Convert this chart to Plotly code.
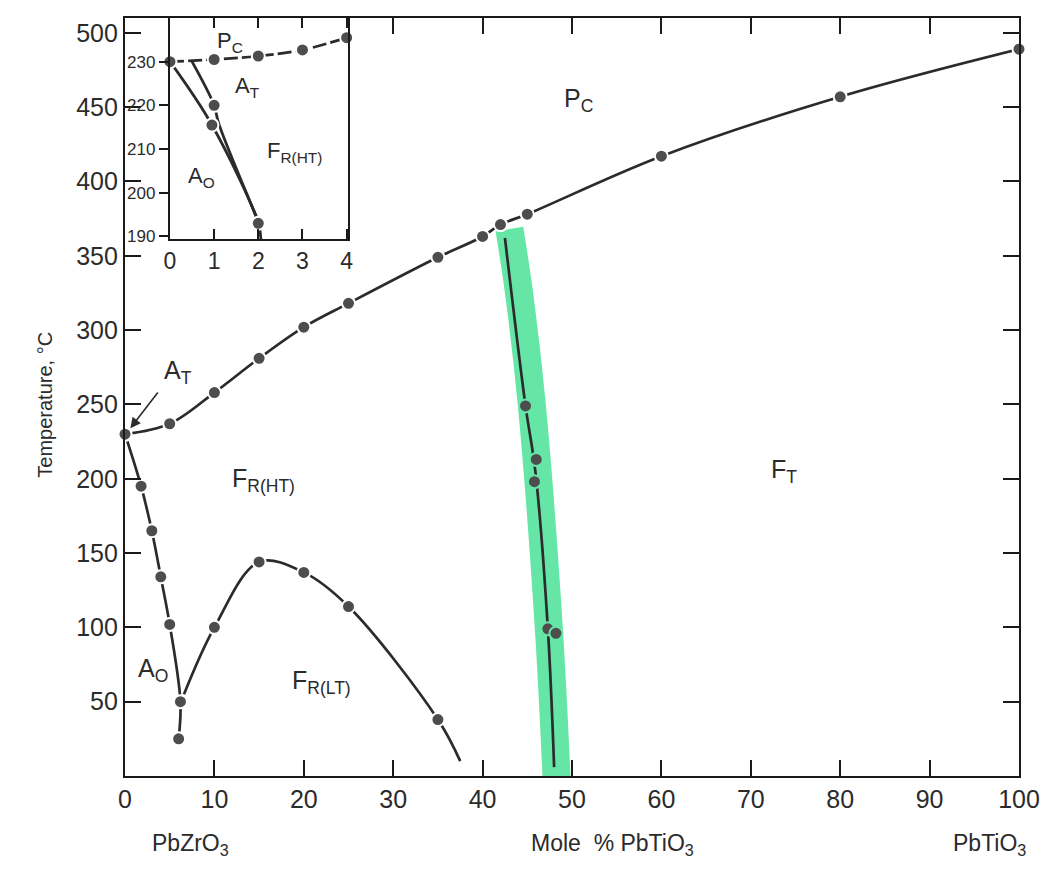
import plotly.graph_objects as go

# ---------------- data ----------------
# Curie line (P_C boundary), main plot
curie_x = [0, 5, 10, 15, 20, 25, 35, 40, 42, 45, 60, 80, 100]
curie_y = [230, 237, 258, 281, 302, 318, 349, 363, 371, 378, 417, 457, 489]

# A_O / F_R(HT) boundary
ao_x = [0, 1.8, 3, 4, 5, 6.2, 6.0]
ao_y = [230, 195, 165, 134, 102, 50, 25]

# F_R(HT) / F_R(LT) boundary
lt_line_x = [6.6, 10, 15, 20, 25, 35, 37.5]
lt_line_y = [55, 100, 144, 137, 114, 38, 10]
lt_pts_x = [10, 15, 20, 25, 35]
lt_pts_y = [100, 144, 137, 114, 38]

# morphotropic boundary (F_R / F_T)
mpb_line_x = [42.5, 44.8, 45.9, 47.3, 48.0]
mpb_line_y = [362, 249, 205, 99, 6]
mpb_pts_x = [44.8, 46.0, 45.8, 47.3, 48.2]
mpb_pts_y = [249, 213, 198, 99, 96]

# green highlighter band
band_x = [43.0, 44.1, 45.5, 47.4, 48.3]
band_y = [368, 324, 250, 100, -5]

# inset data
in_pc_x = [0, 1, 2, 3, 4]
in_pc_y = [230, 230.5, 231.3, 232.7, 235.5]
in_ao_x = [0, 0.95, 2, 2.06]
in_ao_y = [230, 215.5, 193, 189]
in_at_x = [0.5, 1.0, 1.1, 2.0]
in_at_y = [230, 220, 216, 193.5]
in_pts_x = [1, 0.95, 2]
in_pts_y = [220, 215.5, 193]

main_xticks = [0, 10, 20, 30, 40, 50, 60, 70, 80, 90, 100]
main_yticks = [50, 100, 150, 200, 250, 300, 350, 400, 450, 500]
inset_xticks = [0, 1, 2, 3, 4]
inset_yticks = [190, 200, 210, 220, 230]

# ---------------- styling ----------------
FONT = "Liberation Sans, Arial, sans-serif"
INK = "#2b2b2b"
LINE_W = 2.7
GREEN = "#66e6a6"

fig = go.Figure()

# green band
fig.add_trace(go.Scatter(x=band_x, y=band_y, mode="lines",
                         line=dict(color=GREEN, width=28, shape="spline"),
                         hoverinfo="skip", showlegend=False))

def line(x, y, xa="x", ya="y", dash="solid", w=LINE_W):
    fig.add_trace(go.Scatter(x=x, y=y, mode="lines", xaxis=xa, yaxis=ya,
                             line=dict(color=INK, width=w, shape="spline", dash=dash),
                             hoverinfo="skip", showlegend=False))

def pts(x, y, xa="x", ya="y", halo="white"):
    fig.add_trace(go.Scatter(x=x, y=y, mode="markers", xaxis=xa, yaxis=ya,
                             marker=dict(size=13, color="#4d4d4d",
                                         line=dict(color=halo, width=2)),
                             cliponaxis=False, hoverinfo="skip", showlegend=False))

line(curie_x, curie_y)
line(ao_x, ao_y)
line(lt_line_x, lt_line_y)
line(mpb_line_x, mpb_line_y)
pts(curie_x, curie_y)
pts(ao_x, ao_y)
pts(lt_pts_x, lt_pts_y)
pts(mpb_pts_x, mpb_pts_y, halo=GREEN)

# inset traces
line(in_pc_x, in_pc_y, "x2", "y2", dash="14px,4px")
line(in_ao_x, in_ao_y, "x2", "y2", w=2.8)
line(in_at_x, in_at_y, "x2", "y2", w=2.8)
pts(in_pc_x, in_pc_y, "x2", "y2")
pts(in_pts_x, in_pts_y, "x2", "y2")

# ---------------- annotations ----------------
ann = []
def label(text, x, y, size=25, xref="x", yref="y"):
    ann.append(dict(text=text, x=x, y=y, xref=xref, yref=yref, showarrow=False,
                    font=dict(family=FONT, size=size, color=INK)))

label("P<sub>C</sub>", 50.7, 455)
label("F<sub>R(HT)</sub>", 15.5, 199)
label("F<sub>T</sub>", 73.7, 205)
label("A<sub>O</sub>", 3.1, 71)
label("F<sub>R(LT)</sub>", 22, 63)
label("A<sub>T</sub>", 5.9, 272)

label("P<sub>C</sub>", 1.36, 234.5, 22, "x2", "y2")
label("A<sub>T</sub>", 1.76, 224.2, 22, "x2", "y2")
label("F<sub>R(HT)</sub>", 2.83, 209.3, 22, "x2", "y2")
label("A<sub>O</sub>", 0.72, 203.6, 22, "x2", "y2")

# arrow from A_T label to the 230 point
ann.append(dict(x=0.6, y=234, ax=3.8, ay=259, xref="x", yref="y", axref="x", ayref="y",
                text="", showarrow=True, arrowhead=2, arrowsize=1.3, arrowwidth=1.6,
                arrowcolor=INK))

# bottom labels
for t, xp in [("PbZrO<sub>3</sub>", 0.028), ("Mole  % PbTiO<sub>3</sub>", 0.545),
              ("PbTiO<sub>3</sub>", 1.010)]:
    ann.append(dict(text=t, x=xp, y=-0.091, xref="paper", yref="paper", showarrow=False,
                    yanchor="middle",
                    font=dict(family=FONT, size=23, color=INK)))

ann.append(dict(text="Temperature, °C", x=-0.105, y=0.49, xref="paper", yref="paper",
                textangle=-90, showarrow=False, font=dict(family=FONT, size=20, color=INK)))

axis_common = dict(showline=True, linecolor="#1a1a1a", linewidth=2.2, showgrid=False,
                   zeroline=False, tickcolor="#1a1a1a", tickwidth=2,
                   tickfont=dict(family=FONT, size=25, color=INK))

fig.update_layout(
    width=1056, height=871,
    margin=dict(l=125, r=37, t=18, b=95),
    paper_bgcolor="white", plot_bgcolor="white",
    showlegend=False,
    annotations=ann,
    xaxis=dict(range=[0, 100], tickvals=main_xticks, ticks="inside", ticklen=16,
               mirror="ticks", domain=[0, 1], **axis_common),
    yaxis=dict(range=[0, 510], tickvals=main_yticks, ticks="inside", ticklen=16,
               mirror="ticks", domain=[0, 1], **axis_common),
    xaxis2=dict(range=[0, 4.03], tickvals=inset_xticks, ticks="inside", ticklen=10,
                mirror="ticks", anchor="y2", domain=[0.0503, 0.2494],
                showline=True, linecolor="#1a1a1a", linewidth=2.2, showgrid=False,
                zeroline=False, tickcolor="#1a1a1a", tickwidth=2,
                tickfont=dict(family=FONT, size=23, color=INK)),
    yaxis2=dict(range=[189.4, 240], tickvals=inset_yticks, ticks="outside", ticklen=9,
                mirror=True, anchor="x2", domain=[0.7084, 1.0],
                showline=True, linecolor="#1a1a1a", linewidth=2.2, showgrid=False,
                zeroline=False, tickcolor="#1a1a1a", tickwidth=2,
                tickfont=dict(family=FONT, size=17, color=INK)),
    yaxis3=dict(range=[189.4, 240], tickvals=inset_yticks, ticks="inside", ticklen=9,
                overlaying="y2", side="right", anchor="x2", showticklabels=False,
                showline=False, showgrid=False, zeroline=False,
                tickcolor="#1a1a1a", tickwidth=2),
)

# white background for the inset, covering main-plot ticks
fig.add_shape(type="rect", xref="x2 domain", yref="y2 domain", x0=0, x1=1, y0=0, y1=1,
              fillcolor="white", line=dict(width=0), layer="below")

fig.write_html("out.html")
